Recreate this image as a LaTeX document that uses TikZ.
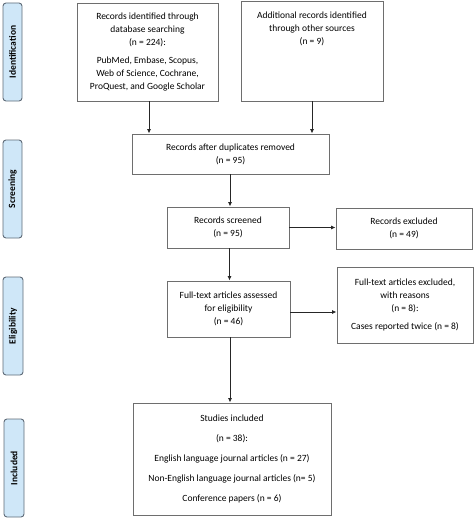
\documentclass[tikz,border=0pt]{standalone}
\usepackage{fontspec}
\setmainfont{Carlito}
\usetikzlibrary{arrows.meta}
\definecolor{boxline}{HTML}{6E6E6E}
\definecolor{phasefill}{HTML}{CFE7F8}
\definecolor{phaseline}{HTML}{5F6B78}
\begin{document}
\begin{tikzpicture}[x=1pt,y=-1pt,
  box/.style={draw=boxline, line width=0.9pt, fill=white, align=center, inner sep=2pt,
    font=\fontsize{9.5}{13}\selectfont},
  phase/.style={draw=phaseline, line width=0.9pt, fill=phasefill, rounded corners=3pt,
    font=\fontsize{9.5}{11}\selectfont\bfseries},
  arr/.style={draw=black!85, line width=0.9pt, -{Latex[length=4.5pt,width=4pt]}}]
\useasboundingbox (0,0) rectangle (474,519);
% phase labels
\node[phase, minimum width=19pt, minimum height=98pt] (p1) at (12.5,52) {};
\node[rotate=90, font=\fontsize{9.5}{11}\selectfont\bfseries] (p1t) at (p1) {Identification};
\node[phase, minimum width=19pt, minimum height=98pt] (p2) at (12.5,189) {};
\node[rotate=90, font=\fontsize{9.5}{11}\selectfont\bfseries] (p2t) at (p2) {Screening};
\node[phase, minimum width=20pt, minimum height=98pt] (p3) at (13,326) {};
\node[rotate=90, font=\fontsize{9.5}{11}\selectfont\bfseries] (p3t) at (p3) {Eligibility};
\node[phase, minimum width=20pt, minimum height=98pt] (p4) at (14,468) {};
\node[rotate=90, font=\fontsize{9.5}{11}\selectfont\bfseries] (p4t) at (p4) {Included};
% boxes
\node[box, minimum width=141pt, minimum height=98pt] (b1) at (147.5,52)
  {Records identified through\\database searching\\(n = 224):\\[5pt]
   PubMed, Embase, Scopus,\\Web of Science, Cochrane,\\ProQuest, and Google Scholar};
\node[box, minimum width=142pt, minimum height=100pt, inner sep=0pt] (b2) at (312,51)
  {\parbox[t][92pt][t]{138pt}{\centering\vspace*{7pt}Additional records identified\\through other sources\\(n = 9)}};
\node[box, minimum width=197pt, minimum height=40pt] (b3) at (230.5,154)
  {Records after duplicates removed\\(n = 95)};
\node[box, minimum width=122pt, minimum height=41pt] (b4) at (228,227.5)
  {Records screened\\(n = 95)};
\node[box, minimum width=136pt, minimum height=41pt] (b5) at (404,228.5)
  {Records excluded\\(n = 49)};
\node[box, minimum width=123pt, minimum height=56pt] (b6) at (228.5,309)
  {Full-text articles assessed\\for eligibility\\(n = 46)};
\node[box, minimum width=136pt, minimum height=76pt] (b7) at (405,305)
  {Full-text articles excluded,\\with reasons\\(n = 8):\\[5pt]Cases reported twice (n = 8)};
\node[box, minimum width=198pt, minimum height=112pt] (b8) at (232,459)
  {Studies included\\[7pt](n = 38):\\[7pt]English language journal articles (n = 27)\\[7pt]
   Non-English language journal articles (n= 5)\\[7pt]Conference papers (n = 6)};
% arrows
\draw[arr] ([xshift=1.5pt]b1.south) -- ([xshift=1.5pt]b1.south |- b3.north);
\draw[arr] (b2.south) -- (b2.south |- b3.north);
\draw[arr] ([xshift=-0.5pt]b3.south) -- ([xshift=-0.5pt]b3.south |- b4.north);
\draw[arr] (b4.east) -- (b4.east -| b5.west);
\draw[arr] ([xshift=1.5pt]b4.south) -- ([xshift=1.5pt]b4.south |- b6.north);
\draw[arr] ([yshift=-3pt]b6.east) -- ([yshift=-3pt]b6.east -| b7.west);
\draw[arr] ([xshift=1.5pt]b6.south) -- ([xshift=1.5pt]b6.south |- b8.north);
\end{tikzpicture}
\end{document}
